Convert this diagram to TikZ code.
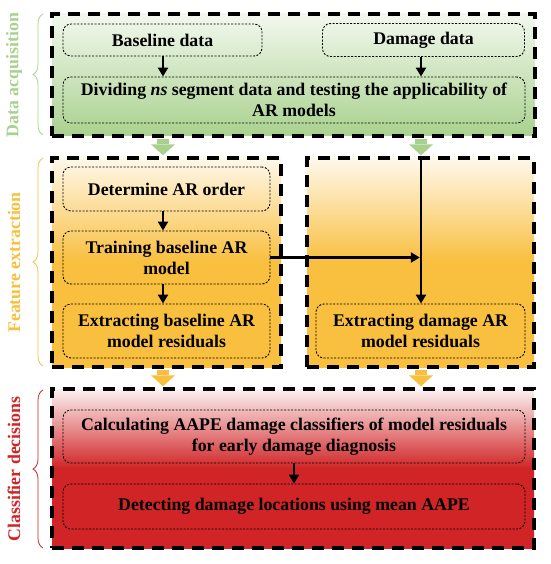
\documentclass[tikz,border=0pt]{standalone}
\usepackage{fontspec}
\setmainfont{Liberation Serif}
\usetikzlibrary{arrows.meta,decorations.pathreplacing}
\definecolor{greenA}{RGB}{169,209,142}
\definecolor{orangeA}{RGB}{249,191,62}
\definecolor{redA}{RGB}{208,36,38}
\begin{document}
\begin{tikzpicture}[x=1pt,y=-1pt,font=\fontsize{17.8}{21}\selectfont\bfseries,
	stage/.style={draw=black,line width=3.3pt,dash pattern=on 12pt off 8pt,inner sep=0pt},
	box/.style={draw=black,line width=0.9pt,dash pattern=on 2pt off 1.5pt,rounded corners=8pt,inner sep=0pt,align=center},
	arr/.style={line width=2.5pt,-{Triangle[length=9pt,width=10pt]}},
	fat/.style={line width=12pt,shorten <=1.8pt,shorten >=1pt,-{Triangle[length=11pt,width=24pt,line width=0pt]}},
	brc/.style={decorate,decoration={brace,amplitude=10pt},line width=0.8pt},
	lab/.style={rotate=90}]
		\useasboundingbox (0,0) rectangle (550,564);
		%\draw[help lines] (0,0) grid[step=50] (550,564);
		\node[stage,top color=greenA!15,bottom color=greenA,minimum width=483pt,minimum height=122pt] (acq) at (293.5,75) {};
		\node[stage,top color=orangeA!10,bottom color=orangeA,middle color=orangeA,minimum width=229pt,minimum height=209pt] (featL) at (166.5,262.5) {};
		\node[stage,top color=orangeA!10,bottom color=orangeA,middle color=orangeA,minimum width=227pt,minimum height=209pt] (featR) at (420.5,262.5) {};
		\node[stage,top color=redA!6,bottom color=redA,middle color=redA,minimum width=482pt,minimum height=159pt] (cls) at (293,468.5) {};
		\coordinate (colL) at (163,0);
		\coordinate (colR) at (421,0);
		\node[box,minimum width=199pt,minimum height=32pt] (base) at (162.5,40) {Baseline data};
		\node[box,minimum width=202pt,minimum height=33pt] (dmg) at (423.5,40) {Damage data};
		\node[box,minimum width=462pt,minimum height=46pt] (div) at (294,100) {Dividing \textit{ns} segment data and testing the applicability of\\AR models};
		\node[box,minimum width=207pt,minimum height=44pt] (ord) at (166.5,189) {Determine AR order};
		\node[box,minimum width=207pt,minimum height=53pt] (train) at (166.5,257.5) {Training baseline AR\\model};
		\node[box,minimum width=207pt,minimum height=54pt] (ebase) at (166.5,331) {Extracting baseline AR\\model residuals};
		\node[box,minimum width=209pt,minimum height=54pt] (edmg) at (420.5,331) {Extracting damage AR\\model residuals};
		\node[box,minimum width=462pt,minimum height=53pt] (calc) at (294,436.5) {Calculating AAPE damage classifiers of model residuals\\for early damage diagnosis};
		\node[box,minimum width=462pt,minimum height=45pt] (loc) at (294,506.5) {Detecting damage locations using mean AAPE};
		\draw[arr] (base.south -| colL) -- (div.north -| colL);
		\draw[arr] (dmg.south -| colR) -- (div.north -| colR);
		\draw[arr] (ord.south -| colL) -- (train.north -| colL);
		\draw[arr] (train.south -| colL) -- (ebase.north -| colL);
		\draw[arr] (featR.north -| colR) -- (edmg.north -| colR);
		\draw[arr,shorten >=1.2pt] (train.east) -- (train.east -| colR);
		\draw[arr] (calc.south) -- (loc.north);
		\draw[fat,greenA] (acq.south -| colL) -- (featL.north -| colL);
		\draw[fat,greenA] (acq.south -| colR) -- (featR.north -| colR);
		\draw[fat,orangeA] (featL.south -| colL) -- (cls.north -| colL);
		\draw[fat,orangeA] (featR.south -| colR) -- (cls.north -| colR);
		\draw[brc,greenA] (43,135) -- (43,14);
		\draw[brc,orangeA] (43,366) -- (43,158);
		\draw[brc,redA] (43,548) -- (43,390);
		\node[lab,text=greenA] (tacq) at (14,75) {Data acquisition};
		\node[lab,text=orangeA] (tfeat) at (14,262.5) {Feature extraction};
		\node[lab,text=redA] (tcls) at (14,469) {Classifier decisions};
	\end{tikzpicture}
\end{document}
